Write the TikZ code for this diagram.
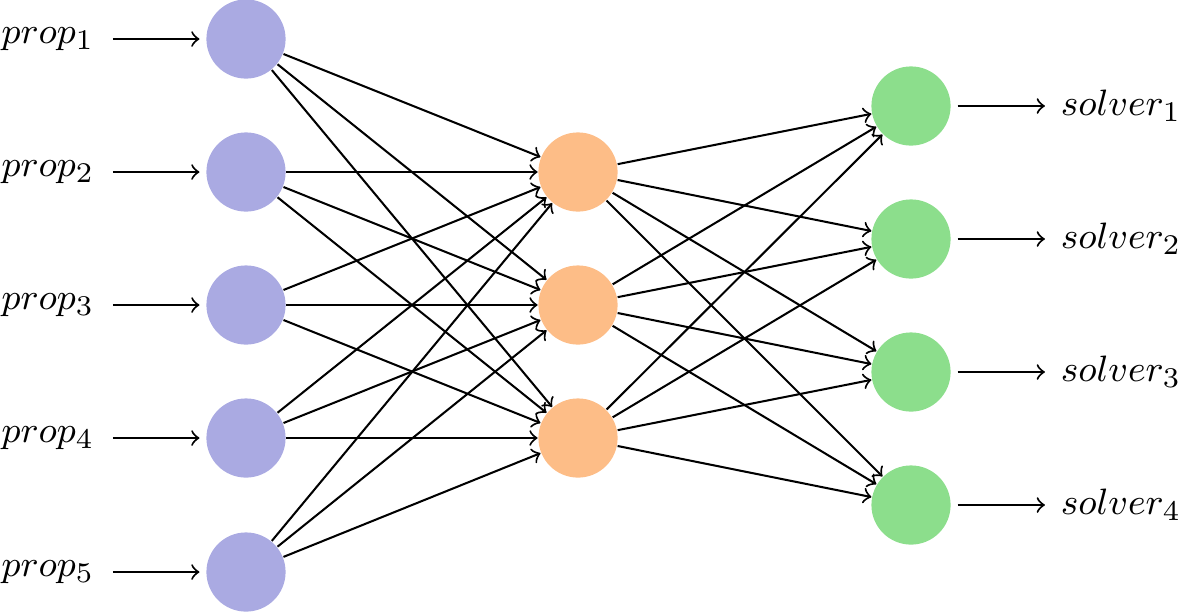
\documentclass[tikz,border=0pt]{standalone}
\usepackage{amsmath}
\usepackage{tikz}
\usetikzlibrary{arrows}
\usetikzlibrary{positioning}
\definecolor{propblue}{RGB}{170,170,226}
\definecolor{hidorange}{RGB}{253,189,135}
\definecolor{solvgreen}{RGB}{140,222,140}
\tikzset{
    neuron/.style={circle, inner sep=0pt, minimum size=19.4pt},
    inneuron/.style={neuron, fill=propblue},
    hidneuron/.style={neuron, fill=hidorange},
    outneuron/.style={neuron, fill=solvgreen},
    synapse/.style={->, draw=black, line width=0.5pt},
    inlabel/.style={anchor=east, inner sep=0pt, font=\fontsize{9.3}{11}\selectfont},
    outlabel/.style={anchor=west, inner sep=0pt, font=\fontsize{9.3}{11}\selectfont},
}
\begin{document}
\begin{tikzpicture}[x=0.245pt, y=-0.245pt]
	\useasboundingbox (0,0) rectangle (1182,612);
	% properties
	\node[inneuron] (p1) at (246,39) {};
	\node[inneuron] (p2) at (246,172) {};
	\node[inneuron] (p3) at (246,305) {};
	\node[inneuron] (p4) at (246,438) {};
	\node[inneuron] (p5) at (246,572) {};
	% hidden
	\node[hidneuron] (h1) at (578,172) {};
	\node[hidneuron] (h2) at (578,305) {};
	\node[hidneuron] (h3) at (578,438) {};
	% solvers
	\node[outneuron] (s1) at (911,106) {};
	\node[outneuron] (s2) at (911,239) {};
	\node[outneuron] (s3) at (911,372) {};
	\node[outneuron] (s4) at (911,505) {};
	% labels
	\node[inlabel] (lp1) at (95,39) {$prop_1$};
	\node[inlabel] (lp2) at (95,172) {$prop_2$};
	\node[inlabel] (lp3) at (95,305) {$prop_3$};
	\node[inlabel] (lp4) at (95,438) {$prop_4$};
	\node[inlabel] (lp5) at (95,572) {$prop_5$};
	\node[outlabel] (ls1) at (1060,106) {$solver_1$};
	\node[outlabel] (ls2) at (1060,239) {$solver_2$};
	\node[outlabel] (ls3) at (1060,372) {$solver_3$};
	\node[outlabel] (ls4) at (1060,505) {$solver_4$};
	\foreach \i in {1,...,5}
		\draw[synapse, shorten <=4.4pt, shorten >=1.5pt] (lp\i) -- (p\i);
	\foreach \i in {1,...,4}
		\draw[synapse, shorten <=1.5pt, shorten >=3.7pt] (s\i) -- (ls\i);
	\foreach \i in {1,...,5}
		\foreach \j in {1,2,3}
			\draw[synapse] (p\i) -- (h\j);
	\foreach \j in {1,2,3}
		\foreach \k in {1,...,4}
			\draw[synapse] (h\j) -- (s\k);
\end{tikzpicture}
\end{document}
